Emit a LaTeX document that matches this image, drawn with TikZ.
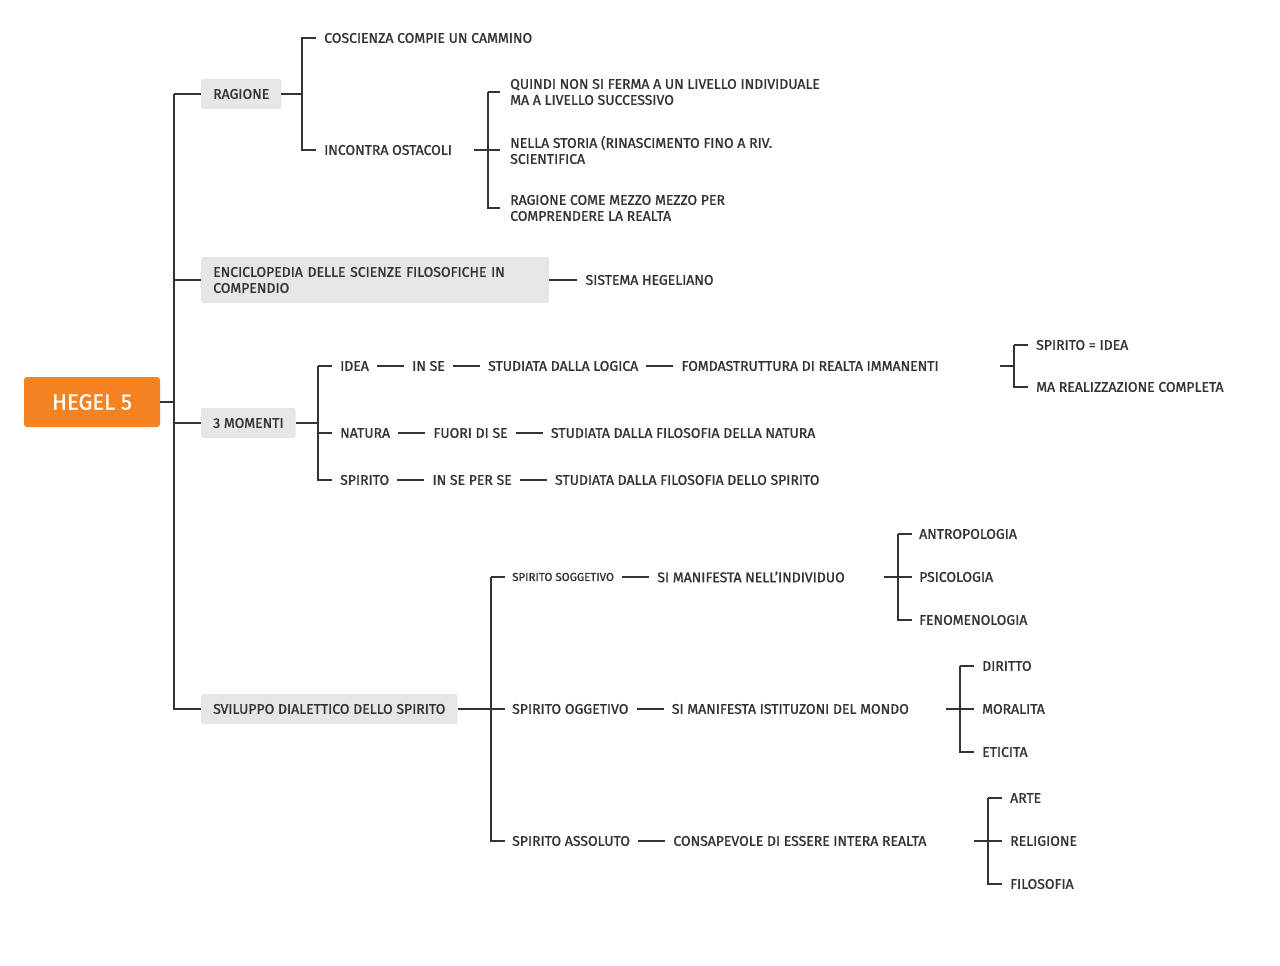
\documentclass[tikz,border=0pt]{standalone}
\usepackage{fontspec}
\setmainfont{Fira Sans}[UprightFeatures={FakeBold=1.2}]
\usetikzlibrary{positioning}
\definecolor{hegelorange}{HTML}{F58220}
\definecolor{boxgray}{HTML}{E6E6E6}
\definecolor{linegray}{HTML}{333333}
\tikzset{
    topic/.style={fill=boxgray, rounded corners=2pt, anchor=west, inner xsep=12pt, minimum height=30pt, text=linegray, font=\fontsize{14}{16}\selectfont},
    leaf/.style={anchor=west, inner sep=0pt, text=linegray, font=\fontsize{14}{16}\selectfont, align=left},
    link/.style={draw=linegray, line width=1.3pt},
    trunk/.style={draw=linegray, line width=2.2pt},
    dashlink/.style={link, shorten <=8pt, shorten >=8pt},
    node distance=43pt
}
\begin{document}
\begin{tikzpicture}[x=1pt, y=-1pt]
    \useasboundingbox (0,0) rectangle (1280,966);

    % Root
    \node[fill=hegelorange, rounded corners=3pt, text=white, font=\fontsize{22}{24}\selectfont, minimum width=136pt, minimum height=50pt] (root) at (92,402) {HEGEL 5};

    % Main branches
    \node[topic] (ragione) at (201,94) {RAGIONE};
    \node[topic, text width=324pt, minimum height=46pt, align=left] (enciclo) at (201,280) {ENCICLOPEDIA DELLE SCIENZE FILOSOFICHE IN\\COMPENDIO};
    \node[topic] (momenti) at (201,423) {3 MOMENTI};
    \node[topic] (sviluppo) at (201,709) {SVILUPPO DIALETTICO DELLO SPIRITO};

    \draw[trunk] (root.east) -- (174,402);
    \draw[trunk] (174,94) |- (ragione.west);
    \draw[trunk] (174,94) |- (enciclo.west);
    \draw[trunk] (174,94) |- (momenti.west);
    \draw[trunk] (174,94) |- (sviluppo.west);

    % Ragione
    \node[leaf] (cammino) at (324,38) {COSCIENZA COMPIE UN CAMMINO};
    \node[leaf] (ostacoli) at (324,150) {INCONTRA OSTACOLI};
    \draw[link] (ragione.east) -- (302,94) |- ([xshift=-8pt]cammino.west);
    \draw[link] (302,94) |- ([xshift=-8pt]ostacoli.west);

    \node[leaf] (livello) at (510,92) {QUINDI NON SI FERMA A UN LIVELLO INDIVIDUALE\\MA A LIVELLO SUCCESSIVO};
    \node[leaf] (storia) at (510,150) {NELLA STORIA (RINASCIMENTO FINO A RIV.\\SCIENTIFICA};
    \node[leaf] (mezzo) at (510,208) {RAGIONE COME MEZZO MEZZO PER\\COMPRENDERE LA REALTA};
    \draw[link] (474,150) -- ([xshift=-10pt]storia.west);
    \draw[link] (488,92) |- ([xshift=-10pt]livello.west);
    \draw[link] (488,92) |- ([xshift=-10pt]mezzo.west);

    % Enciclopedia
    \node[leaf, right=36pt of enciclo] (sistema) {SISTEMA HEGELIANO};
    \draw[link, shorten >=8pt] (enciclo.east) -- (sistema.west);

    % 3 momenti
    \node[leaf] (idea) at (340,366) {IDEA};
    \node[leaf] (natura) at (340,433) {NATURA};
    \node[leaf] (spirito) at (340,480) {SPIRITO};
    \draw[link] (momenti.east) -- (318,423);
    \draw[link] (318,366) |- ([xshift=-8pt]idea.west);
    \draw[link] (318,366) |- ([xshift=-8pt]spirito.west);
    \draw[link] (318,433) -- ([xshift=-8pt]natura.west);

    \node[leaf, right=of idea] (inse) {IN SE};
    \node[leaf, right=of inse] (logica) {STUDIATA DALLA LOGICA};
    \node[leaf, right=of logica] (struttura) {FOMDASTRUTTURA DI REALTA IMMANENTI};
    \draw[dashlink] (idea) -- (inse);
    \draw[dashlink] (inse) -- (logica);
    \draw[dashlink] (logica) -- (struttura);
    \node[leaf] (ugualeidea) at (1036,345) {SPIRITO = IDEA};
    \node[leaf] (completa) at (1036,387) {MA REALIZZAZIONE COMPLETA};
    \draw[link] (1000,366) -- (1014,366);
    \draw[link] (1014,345) |- ([xshift=-8pt]ugualeidea.west);
    \draw[link] (1014,345) |- ([xshift=-8pt]completa.west);

    \node[leaf, right=of natura] (fuori) {FUORI DI SE};
    \node[leaf, right=of fuori] (filnatura) {STUDIATA DALLA FILOSOFIA DELLA NATURA};
    \draw[dashlink] (natura) -- (fuori);
    \draw[dashlink] (fuori) -- (filnatura);

    \node[leaf, right=of spirito] (inseperse) {IN SE PER SE};
    \node[leaf, right=of inseperse] (filspirito) {STUDIATA DALLA FILOSOFIA DELLO SPIRITO};
    \draw[dashlink] (spirito) -- (inseperse);
    \draw[dashlink] (inseperse) -- (filspirito);

    % Sviluppo dialettico
    \node[leaf, font=\fontsize{11.5}{13}\selectfont] (soggettivo) at (512,577) {SPIRITO SOGGETIVO};
    \node[leaf] (oggettivo) at (512,709) {SPIRITO OGGETIVO};
    \node[leaf] (assoluto) at (512,841) {SPIRITO ASSOLUTO};
    \draw[link] (sviluppo.east) -- (505,709);
    \draw[link] (491,577) |- ([xshift=-7pt]soggettivo.west);
    \draw[link] (491,577) |- ([xshift=-7pt]assoluto.west);

    \node[leaf, right=of soggettivo] (individuo) {SI MANIFESTA NELL'INDIVIDUO};
    \draw[dashlink] (soggettivo) -- (individuo);
    \node[leaf] (antro) at (919,534) {ANTROPOLOGIA};
    \node[leaf] (psico) at (919,577) {PSICOLOGIA};
    \node[leaf] (fenom) at (919,620) {FENOMENOLOGIA};
    \draw[link] (884,577) -- ([xshift=-7pt]psico.west);
    \draw[link] (898,534) |- ([xshift=-7pt]antro.west);
    \draw[link] (898,534) |- ([xshift=-7pt]fenom.west);

    \node[leaf, right=of oggettivo] (istituzioni) {SI MANIFESTA ISTITUZONI DEL MONDO};
    \draw[dashlink] (oggettivo) -- (istituzioni);
    \node[leaf] (diritto) at (982,666) {DIRITTO};
    \node[leaf] (moralita) at (982,709) {MORALITA};
    \node[leaf] (eticita) at (982,752) {ETICITA};
    \draw[link] (946,709) -- ([xshift=-8pt]moralita.west);
    \draw[link] (960,666) |- ([xshift=-8pt]diritto.west);
    \draw[link] (960,666) |- ([xshift=-8pt]eticita.west);

    \node[leaf, right=of assoluto] (realta) {CONSAPEVOLE DI ESSERE INTERA REALTA};
    \draw[dashlink] (assoluto) -- (realta);
    \node[leaf] (arte) at (1010,798) {ARTE};
    \node[leaf] (religione) at (1010,841) {RELIGIONE};
    \node[leaf] (filosofia) at (1010,884) {FILOSOFIA};
    \draw[link] (974,841) -- ([xshift=-8pt]religione.west);
    \draw[link] (988,798) |- ([xshift=-8pt]arte.west);
    \draw[link] (988,798) |- ([xshift=-8pt]filosofia.west);
\end{tikzpicture}
\end{document}
